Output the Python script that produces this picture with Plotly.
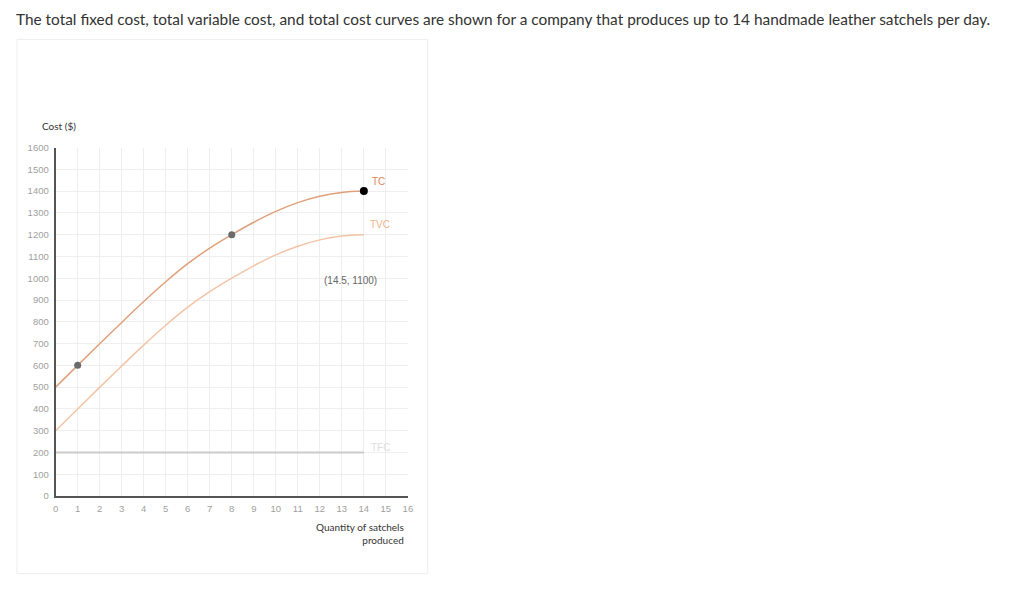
import plotly.graph_objects as go

W, H = 1024, 605
# the page adds an 8px body margin, so pixel positions are shifted back by it
OFF = 8

# data
quantity = list(range(0, 15))
tc = [500, 600, 699, 797, 893, 984, 1067, 1138, 1200, 1257, 1307, 1347, 1376, 1394, 1400]
tvc = [v - 200 for v in tc]
tfc_x = [0, 14]
tfc = [200, 200]
marked_q = [1, 8]
marked_tc = [600, 1200]
end_q = [14]
end_tc = [1400]

x_ticks = list(range(0, 17))
y_ticks = list(range(0, 1700, 100))


def px_x(p):
    return (p - OFF) / W


def px_y(p):
    return 1 - (p - OFF) / H


fig = go.Figure()

fig.add_trace(go.Scatter(x=tfc_x, y=tfc, mode="lines",
                         line=dict(color="#cccccc", width=2), hoverinfo="skip"))
fig.add_trace(go.Scatter(x=quantity, y=tvc, mode="lines", line_shape="spline",
                         line=dict(color="#f2c4a6", width=1.5), hoverinfo="skip"))
fig.add_trace(go.Scatter(x=quantity, y=tc, mode="lines", line_shape="spline",
                         line=dict(color="#e0a07a", width=1.5), hoverinfo="skip"))
fig.add_trace(go.Scatter(x=marked_q, y=marked_tc, mode="markers",
                         marker=dict(color="#6b6b6b", size=7), hoverinfo="skip"))
fig.add_trace(go.Scatter(x=end_q, y=end_tc, mode="markers",
                         marker=dict(color="#000000", size=8), hoverinfo="skip"))

tick_font = dict(family="Arial, Liberation Sans, sans-serif", size=9.5, color="#a0a0a0")
axis_common = dict(showgrid=True, gridcolor="#eeeeee", gridwidth=1,
                   showline=True, linecolor="#555555", linewidth=2,
                   zeroline=False, ticks="outside", tickcolor="rgba(0,0,0,0)",
                   tickfont=tick_font, fixedrange=True)

fig.update_xaxes(range=[0, 16], tickvals=x_ticks, ticktext=[str(v) for v in x_ticks],
                 domain=[px_x(53), px_x(408)], ticklen=3, **axis_common)
fig.update_yaxes(range=[0, 1600], tickvals=y_ticks, ticktext=[str(v) for v in y_ticks],
                 domain=[px_y(499), px_y(144)], ticklen=3, **axis_common)

font = "Lato, Open Sans, sans-serif"
label_font = "Arial, Liberation Sans, sans-serif"
annotations = [
    dict(x=px_x(11), y=px_y(13), xref="paper", yref="paper", xanchor="left", yanchor="middle",
         text="The total fixed cost, total variable cost, and total cost curves are shown for a company that produces up to 14 handmade leather satchels per day.",
         font=dict(family=font, size=15.4, color="#333333"), showarrow=False),
    dict(x=px_x(37), y=px_y(122), xref="paper", yref="paper", xanchor="left", yanchor="middle",
         text="Cost ($)", font=dict(family=font, size=10, color="#333333"), showarrow=False),
    dict(x=px_x(406), y=px_y(537), xref="paper", yref="paper", xanchor="right", yanchor="middle",
         text="Quantity of satchels<br>produced", align="right",
         font=dict(family=font, size=10, color="#333333"), showarrow=False),
    dict(x=14.65, y=1446, xref="x", yref="y", xanchor="center", yanchor="middle",
         text="TC", font=dict(family=label_font, size=10, color="#e0865a"), showarrow=False),
    dict(x=14.74, y=1247, xref="x", yref="y", xanchor="center", yanchor="middle",
         text="TVC", font=dict(family=label_font, size=10, color="#f0b48e"), showarrow=False),
    dict(x=13.38, y=990, xref="x", yref="y", xanchor="center", yanchor="middle",
         text="(14.5, 1100)", font=dict(family=label_font, size=10, color="#666666"), showarrow=False),
    dict(x=14.74, y=221, xref="x", yref="y", xanchor="center", yanchor="middle",
         text="TFC", font=dict(family=label_font, size=10, color="#dddddd"), showarrow=False),
]

fig.update_layout(
    width=W, height=H,
    margin=dict(l=0, r=0, t=0, b=0),
    paper_bgcolor="white", plot_bgcolor="white",
    showlegend=False,
    annotations=annotations,
    shapes=[dict(type="rect", xref="paper", yref="paper",
                 x0=px_x(14), x1=px_x(428), y0=px_y(578), y1=px_y(34),
                 line=dict(color="#eeeeee", width=1), layer="below")],
)

fig.write_html("out.html")
